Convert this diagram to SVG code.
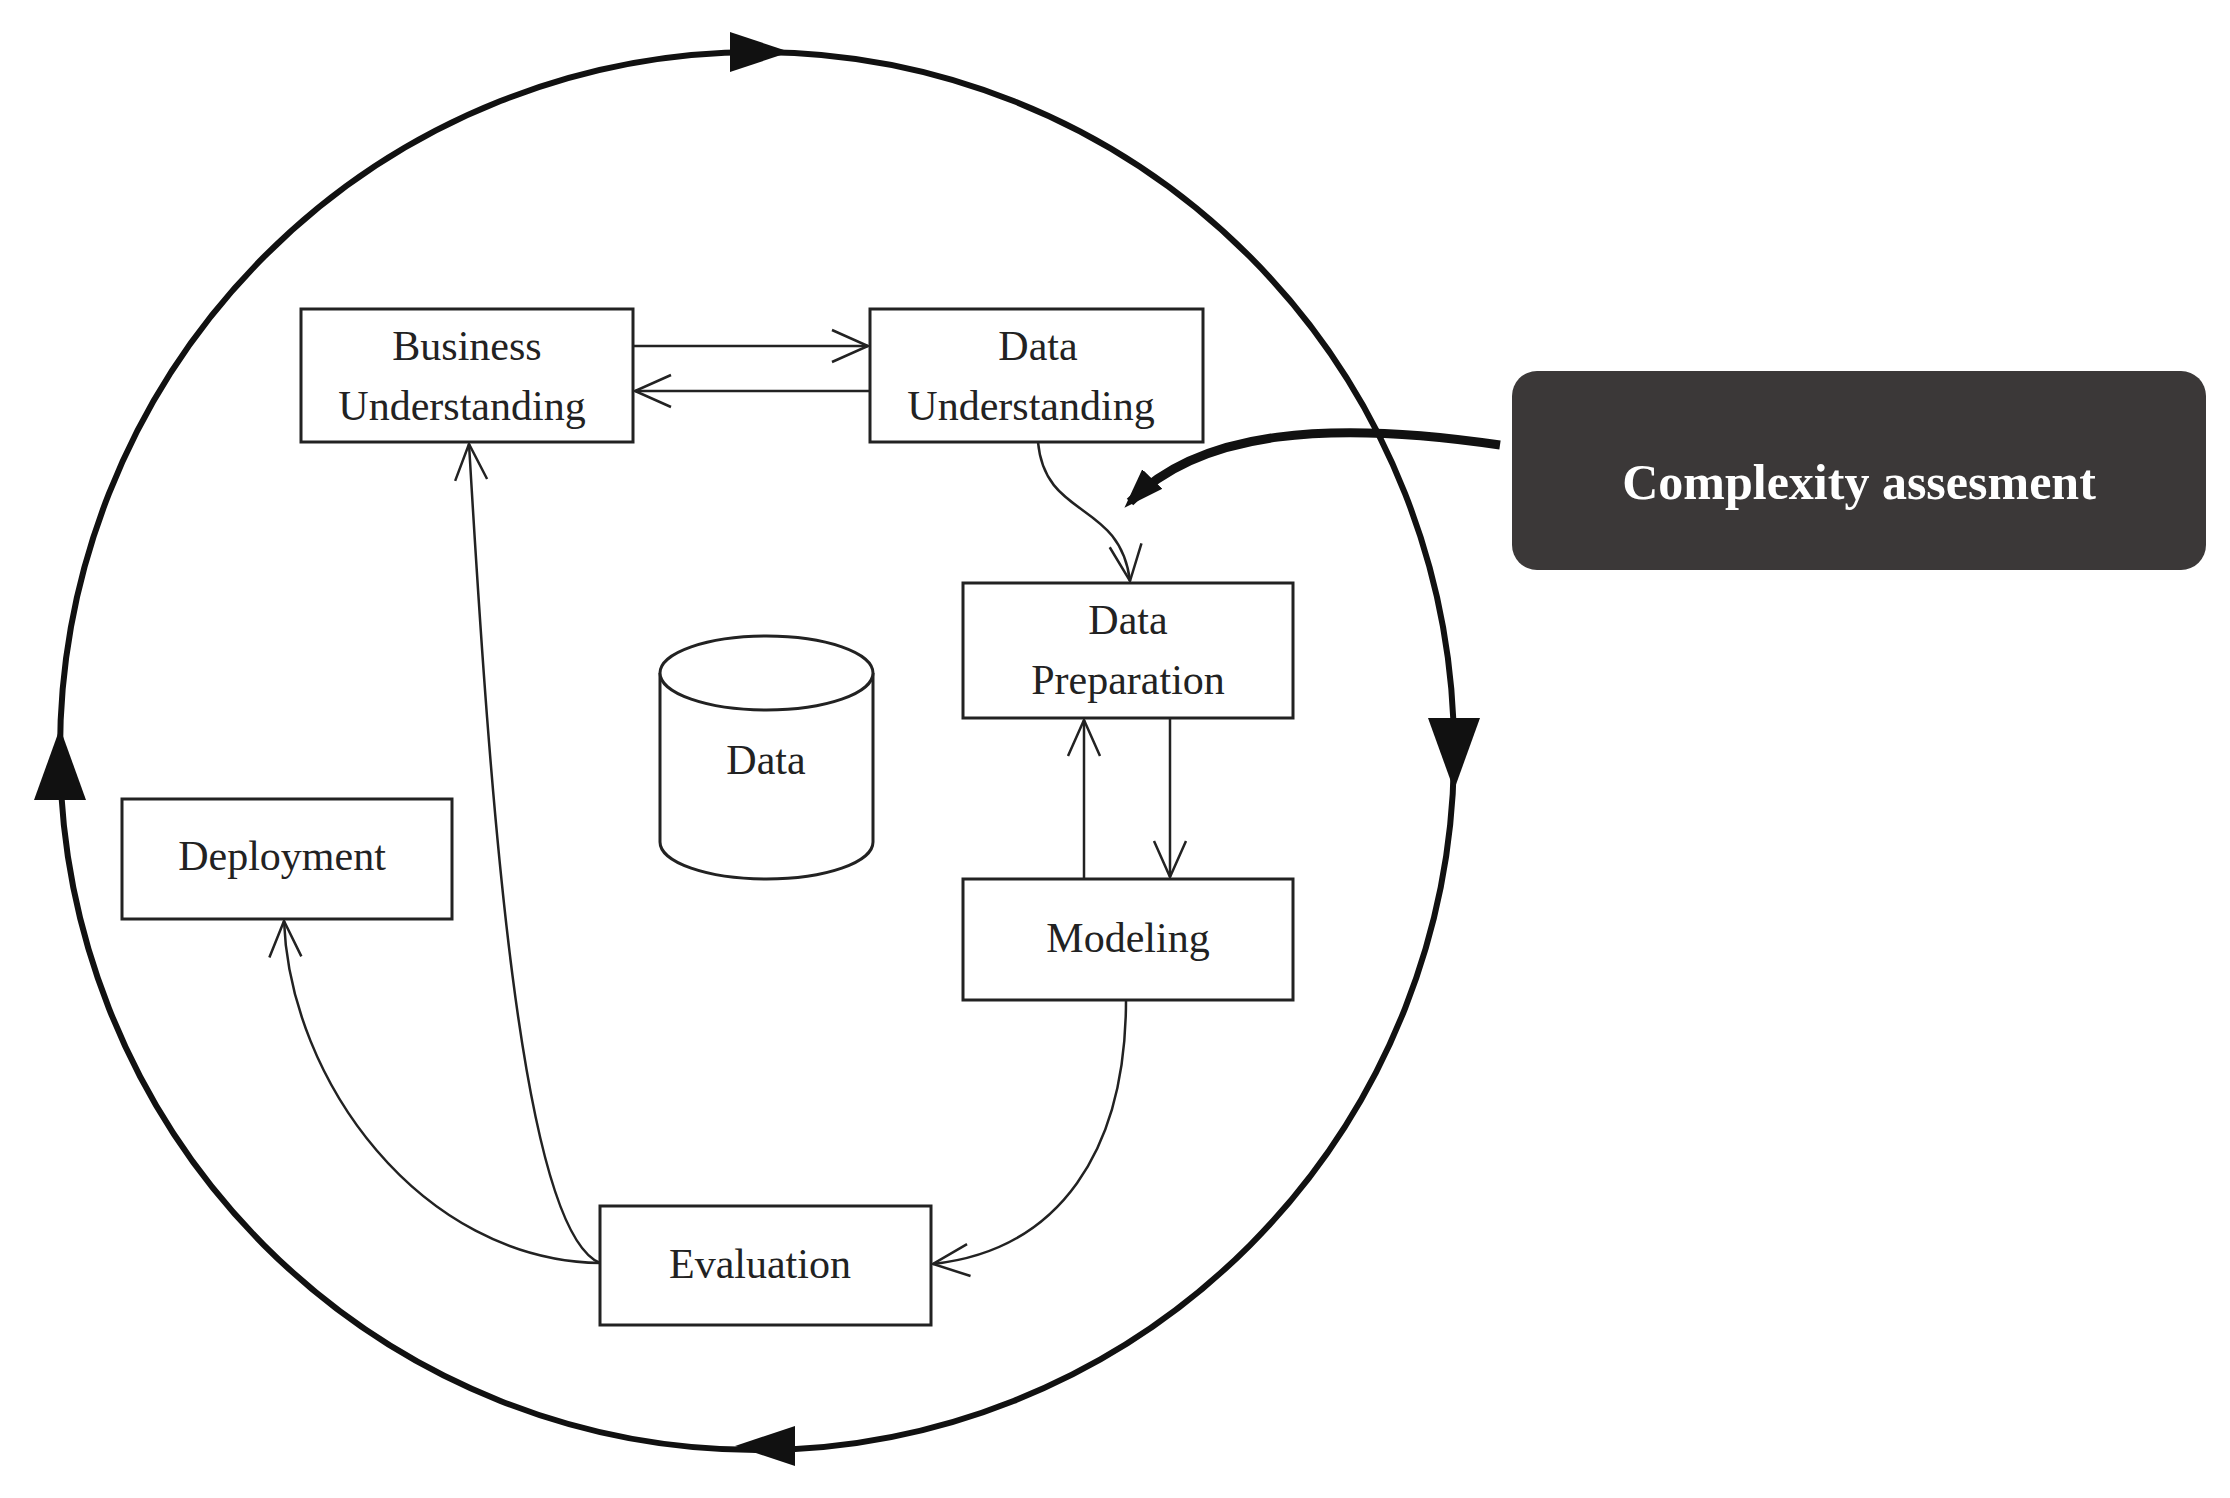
<svg xmlns="http://www.w3.org/2000/svg" width="2230" height="1498" viewBox="0 0 2230 1498">
<style>
.box{fill:#fff;stroke:#222;stroke-width:3}
.t{font-family:"Liberation Serif",serif;font-size:42px;fill:#222;text-anchor:middle}
.c{fill:none;stroke:#222;stroke-width:2.5}
</style>
<defs>
<marker id="open2" viewBox="0 0 40 40" refX="38" refY="20" markerWidth="40" markerHeight="40" markerUnits="userSpaceOnUse" orient="auto">
<path d="M2,4 L38,20 L2,36" fill="none" stroke="#222" stroke-width="2.5"/>
</marker>
<marker id="fill" viewBox="0 0 20 20" refX="16" refY="10" markerWidth="40" markerHeight="40" markerUnits="userSpaceOnUse" orient="auto">
<path d="M0,3 L20,10 L0,17 Z" fill="#111"/>
</marker>
</defs>
<rect width="2230" height="1498" fill="#fff"/>
<g id="cycle">
<ellipse cx="757" cy="751" rx="697" ry="699" fill="none" stroke="#111" stroke-width="6"/>
<path d="M730,72 L790,52 L730,32 Z" fill="#111"/>
<path d="M1428,718 L1454,790 L1480,718 Z" fill="#111"/>
<path d="M795,1466 L735,1446 L795,1426 Z" fill="#111"/>
<path d="M34,800 L60,728 L86,800 Z" fill="#111"/>
</g>
<g id="connectors">
<line x1="633" y1="346" x2="868" y2="346" class="c" marker-end="url(#open2)"/>
<line x1="870" y1="391" x2="635" y2="391" class="c" marker-end="url(#open2)"/>
<path d="M1038,442 C1045,520 1120,500 1130,581" class="c" marker-end="url(#open2)"/>
<line x1="1170" y1="718" x2="1170" y2="877" class="c" marker-end="url(#open2)"/>
<line x1="1084" y1="879" x2="1084" y2="720" class="c" marker-end="url(#open2)"/>
<path d="M1126,1000 C1126,1150 1060,1250 933,1264" class="c" marker-end="url(#open2)"/>
<path d="M600,1263 C520,1230 490,800 469,444" class="c" marker-end="url(#open2)"/>
<path d="M600,1263 C420,1260 290,1080 284,921" class="c" marker-end="url(#open2)"/>
<path d="M1500,445 C1330,420 1200,430 1130,502" fill="none" stroke="#111" stroke-width="9" marker-end="url(#fill)"/>
</g>
<g id="bu"><rect x="301" y="309" width="332" height="133" class="box"/><text x="467" y="360" class="t">Business</text><text x="462" y="420" class="t">Understanding</text></g>
<g id="du"><rect x="870" y="309" width="333" height="133" class="box"/><text x="1038" y="360" class="t">Data</text><text x="1031" y="420" class="t">Understanding</text></g>
<g id="dp"><rect x="963" y="583" width="330" height="135" class="box"/><text x="1128" y="634" class="t">Data</text><text x="1128" y="694" class="t">Preparation</text></g>
<g id="mod"><rect x="963" y="879" width="330" height="121" class="box"/><text x="1128" y="952" class="t">Modeling</text></g>
<g id="eval"><rect x="600" y="1206" width="331" height="119" class="box"/><text x="760" y="1278" class="t">Evaluation</text></g>
<g id="dep"><rect x="122" y="799" width="330" height="120" class="box"/><text x="282" y="870" class="t">Deployment</text></g>
<g id="data">
<path d="M660,673 L660,842 A106.5,37 0 0 0 873,842 L873,673" class="box"/>
<ellipse cx="766.5" cy="673" rx="106.5" ry="37" class="box"/>
<text x="766" y="774" class="t">Data</text>
</g>
<g id="complexity">
<rect x="1512" y="371" width="694" height="199" rx="25" fill="#3b3838"/>
<text x="1859" y="499" style="font-family:'Liberation Serif',serif;font-size:50px;font-weight:bold;fill:#fff;text-anchor:middle">Complexity assesment</text>
</g>
</svg>
